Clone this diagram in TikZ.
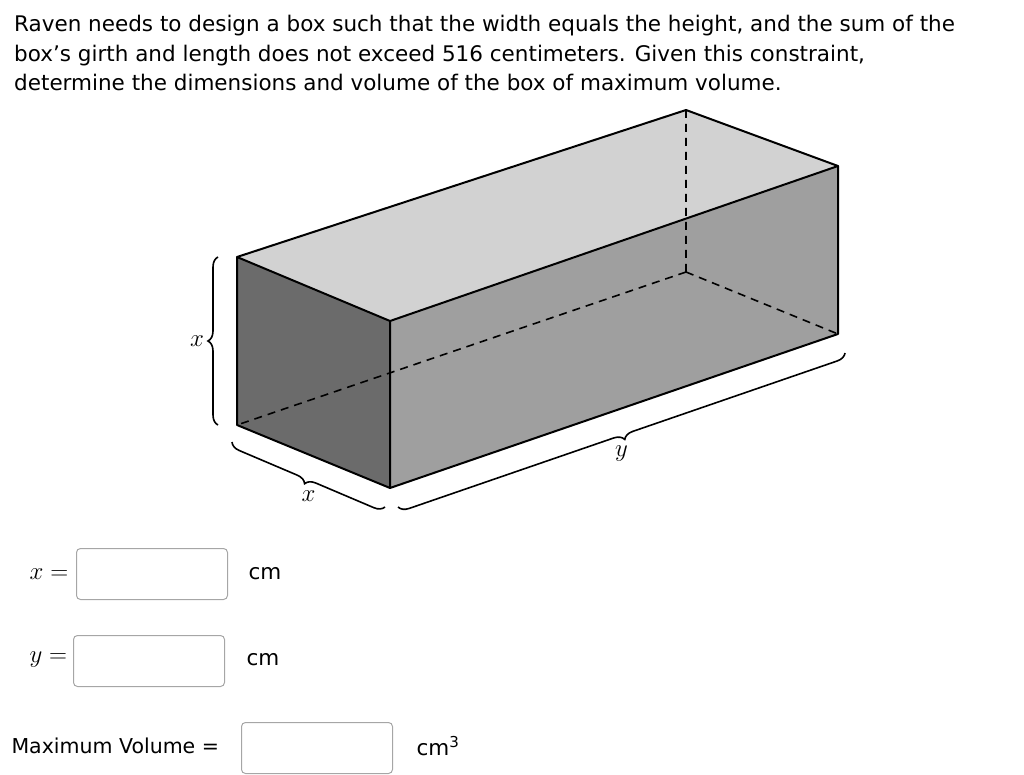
\documentclass[tikz,border=0pt]{standalone}
\usepackage{fontspec}
\setmainfont{DejaVu Sans}
\usetikzlibrary{decorations.pathreplacing}
\begin{document}
\begin{tikzpicture}[x=1pt,y=-1pt,
  edge/.style={line width=2pt,line join=round},
  hid/.style={line width=1.6pt,dash pattern=on 8pt off 6pt},
  br/.style={decorate,decoration={brace,amplitude=10pt},line width=1.6pt},
  mth/.style={font=\fontsize{24}{28}\selectfont},
  ansbox/.style={draw=gray!70,rounded corners=4pt,line width=1pt,minimum width=151pt,minimum height=51pt,anchor=north west},
  txt/.style={font=\fontsize{21.5}{29.5}\selectfont,anchor=west}]
\useasboundingbox (0,0) rectangle (1024,775);
\node[txt,anchor=north west,align=left,inner sep=0] (q) at (14,15) {Raven needs to design a box such that the width equals the height, and the sum of the\\box's girth and length does not exceed 516 centimeters. Given this constraint,\\determine the dimensions and volume of the box of maximum volume.};
\coordinate (A) at (237,257); \coordinate (B) at (390,321);
\coordinate (C) at (390,488); \coordinate (D) at (237,425);
\coordinate (E) at (838,166); \coordinate (F) at (838,334);
\coordinate (G) at (686,110); \coordinate (H) at (686,272);
\fill[gray!35] (A)--(B)--(E)--(G)--cycle;
\fill[gray!75] (B)--(E)--(F)--(C)--cycle;
\fill[black!58] (A)--(B)--(C)--(D)--cycle;
\draw[hid] (G)--(H) (H)--(D) (H)--(F);
\draw[edge] (A)--(B)--(C)--(D)--cycle (B)--(E)--(F)--(C) (E)--(G)--(A);
\draw[br] (218,425)--(218,257) node[midway,left=10pt,mth] (lx) {$x$};
\draw[br] (385,507)--(232,442) node[midway,below=12pt,mth] (bx) {$x$};
\draw[br] (845,353)--(398,507) node[midway,below=12pt,mth] (by) {$y$};
\node[mth,anchor=west] (xl) at (26,574) {$x=$};
\node[ansbox] (xb) at (76,548) {};
\node[txt] (xu) at (245,574) {cm};
\node[mth,anchor=west] (yl) at (26,660) {$y=$};
\node[ansbox] (yb) at (73,635) {};
\node[txt] (yu) at (243,660) {cm};
\node[txt,font=\fontsize{20.5}{26}\selectfont] (vl) at (8,746) {Maximum Volume =};
\node[ansbox] (vb) at (241,722) {};
\node[txt] (vu) at (413,746) {cm\textsuperscript{3}};
\end{tikzpicture}
\end{document}
